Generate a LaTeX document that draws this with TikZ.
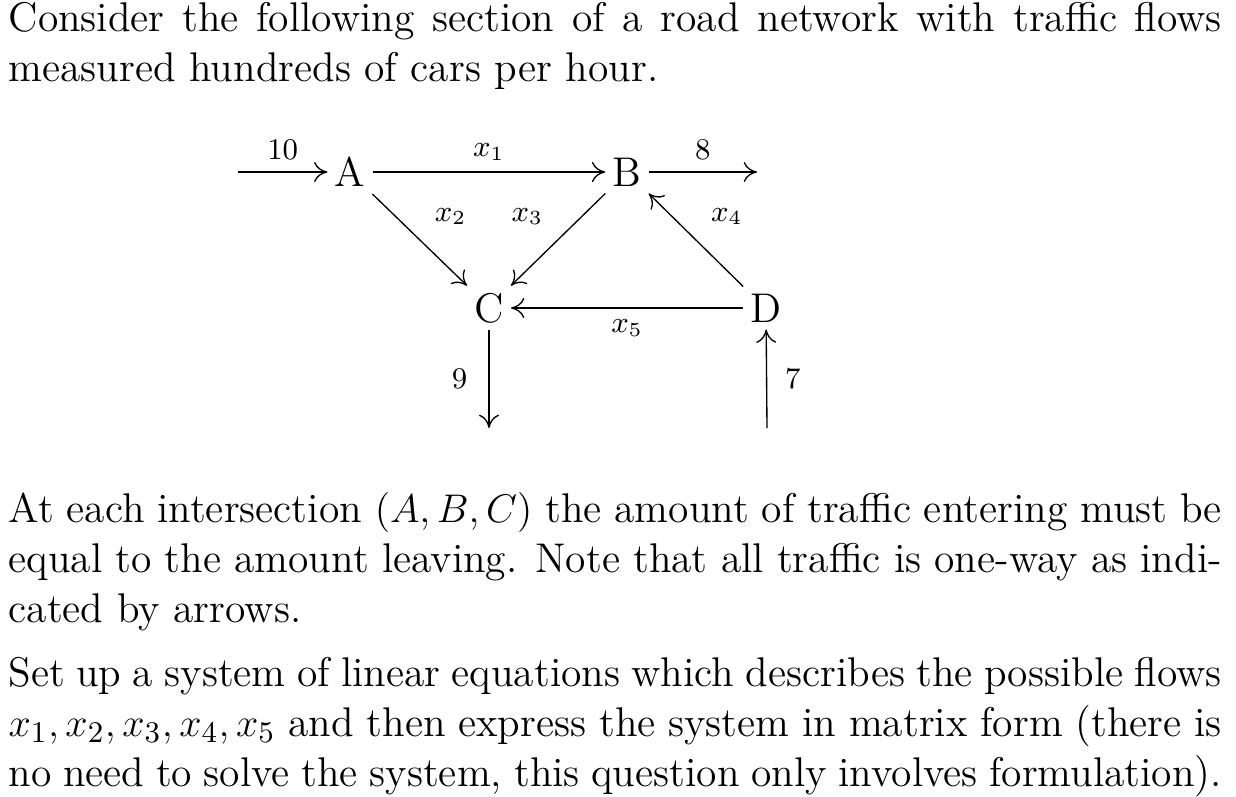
\documentclass[tikz,border=0pt]{standalone}
\usetikzlibrary{arrows.meta}
\begin{document}
\begin{tikzpicture}[x=0.3pt,y=-0.3pt,
  para/.style={anchor=north west,text width=364pt,align=justify,inner sep=0pt,font=\fontsize{12.45}{15}\selectfont},
  vtx/.style={font=\fontsize{12.45}{15}\selectfont,inner sep=2pt},
  lab/.style={font=\small},
  flow/.style={-{To[length=4pt,width=6pt]},line width=0.4pt}]
\useasboundingbox (0,0) rectangle (1236,797);
\node[para] (p1) at (8,2) {Consider the following section of a road network with traffic flows measured hundreds of cars per hour.};
\node[para] (p2) at (8,492) {At each intersection $(A,B,C)$ the amount of traffic entering must be\linebreak equal to the amount leaving. Note that all traffic is one-way as indi-\linebreak cated by arrows.};
\node[para] (p3) at (8,657) {Set up a system of linear equations which describes the possible flows $x_1,x_2,x_3,x_4,x_5$ and then express the system in matrix form (there is no need to solve the system, this question only involves formulation).};
\node[vtx] (A) at (350,172) {A};
\node[vtx] (B) at (627,172) {B};
\node[vtx] (C) at (489,308) {C};
\node[vtx] (D) at (766,308) {D};
\coordinate (in10) at (238,172);
\coordinate (out8) at (757,172);
\coordinate (out9) at (489,428);
\coordinate (in7) at (767,428);
\draw[flow] (in10) -- node[lab,above] {10} (A);
\draw[flow] (A) -- node[lab,above] {$x_1$} (B);
\draw[flow] (B) -- node[lab,above] {8} (out8);
\draw[flow] (A.south east) -- node[lab,above right=1pt] {$x_2$} (C.north west);
\draw[flow] (B.south west) -- node[lab,above left=1pt] {$x_3$} (C.north east);
\draw[flow] (D.north west) -- node[lab,above right=1pt] {$x_4$} (B.south east);
\draw[flow] (D) -- node[lab,below] {$x_5$} (C);
\draw[flow] (C) -- node[lab,left=3pt] {9} (out9);
\draw[flow] (in7) -- node[lab,right=2pt] {7} (D);
\end{tikzpicture}
\end{document}
